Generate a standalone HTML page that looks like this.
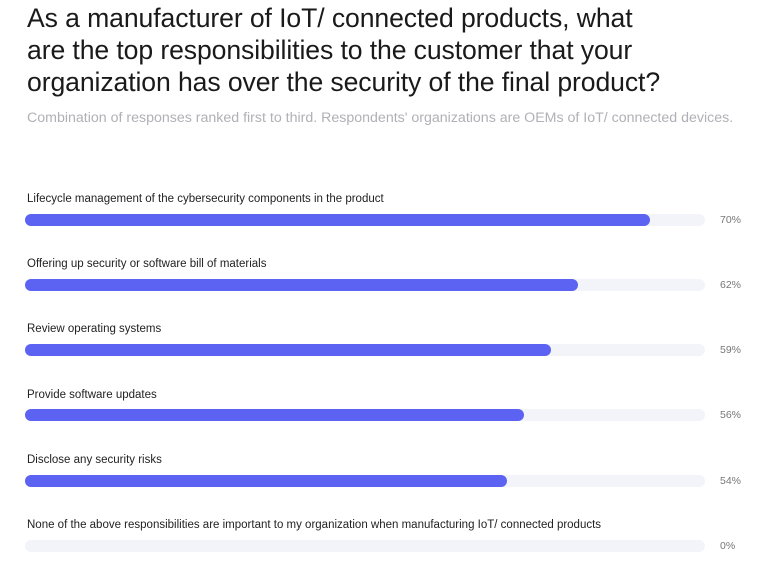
<!DOCTYPE html>
<html><head><style>
body{margin:0;width:768px;height:581px;background:#fff;font-family:"Liberation Sans",sans-serif;position:relative;overflow:hidden}
h1{position:absolute;left:27px;top:2px;margin:0;font-weight:400;font-size:26.6px;line-height:32px;color:#1a1a1a;letter-spacing:-0.1px;white-space:nowrap}
.sub{position:absolute;left:27px;top:110px;font-size:14.2px;color:#b0b0b6;white-space:nowrap}
.lab{position:absolute;left:27px;font-size:11.5px;color:#222;white-space:nowrap}
.track{position:absolute;left:25px;width:680px;height:12px;border-radius:6px;background:#f3f3fa}
.bar{position:absolute;left:25px;height:12px;border-radius:6px;background:#5c62f1}
.pct{position:absolute;left:720px;font-size:10.5px;color:#777}
</style></head><body>
<h1>As a manufacturer of IoT/ connected products, what<br>are the top responsibilities to the customer that your<br>organization has over the security of the final product?</h1>
<div class="sub">Combination of responses ranked first to third. Respondents' organizations are OEMs of IoT/ connected devices.</div>

<div class="lab" style="top:193px">Lifecycle management of the cybersecurity components in the product</div>
<div class="track" style="top:214px"></div><div class="bar" style="top:214px;width:625px"></div><div class="pct" style="top:214px">70%</div>

<div class="lab" style="top:258px">Offering up security or software bill of materials</div>
<div class="track" style="top:279px"></div><div class="bar" style="top:279px;width:553px"></div><div class="pct" style="top:279px">62%</div>

<div class="lab" style="top:323px">Review operating systems</div>
<div class="track" style="top:344px"></div><div class="bar" style="top:344px;width:526px"></div><div class="pct" style="top:344px">59%</div>

<div class="lab" style="top:389px">Provide software updates</div>
<div class="track" style="top:409px"></div><div class="bar" style="top:409px;width:499px"></div><div class="pct" style="top:409px">56%</div>

<div class="lab" style="top:454px">Disclose any security risks</div>
<div class="track" style="top:475px"></div><div class="bar" style="top:475px;width:482px"></div><div class="pct" style="top:475px">54%</div>

<div class="lab" style="top:519px">None of the above responsibilities are important to my organization when manufacturing IoT/ connected products</div>
<div class="track" style="top:540px"></div><div class="pct" style="top:540px">0%</div>
</body></html>
